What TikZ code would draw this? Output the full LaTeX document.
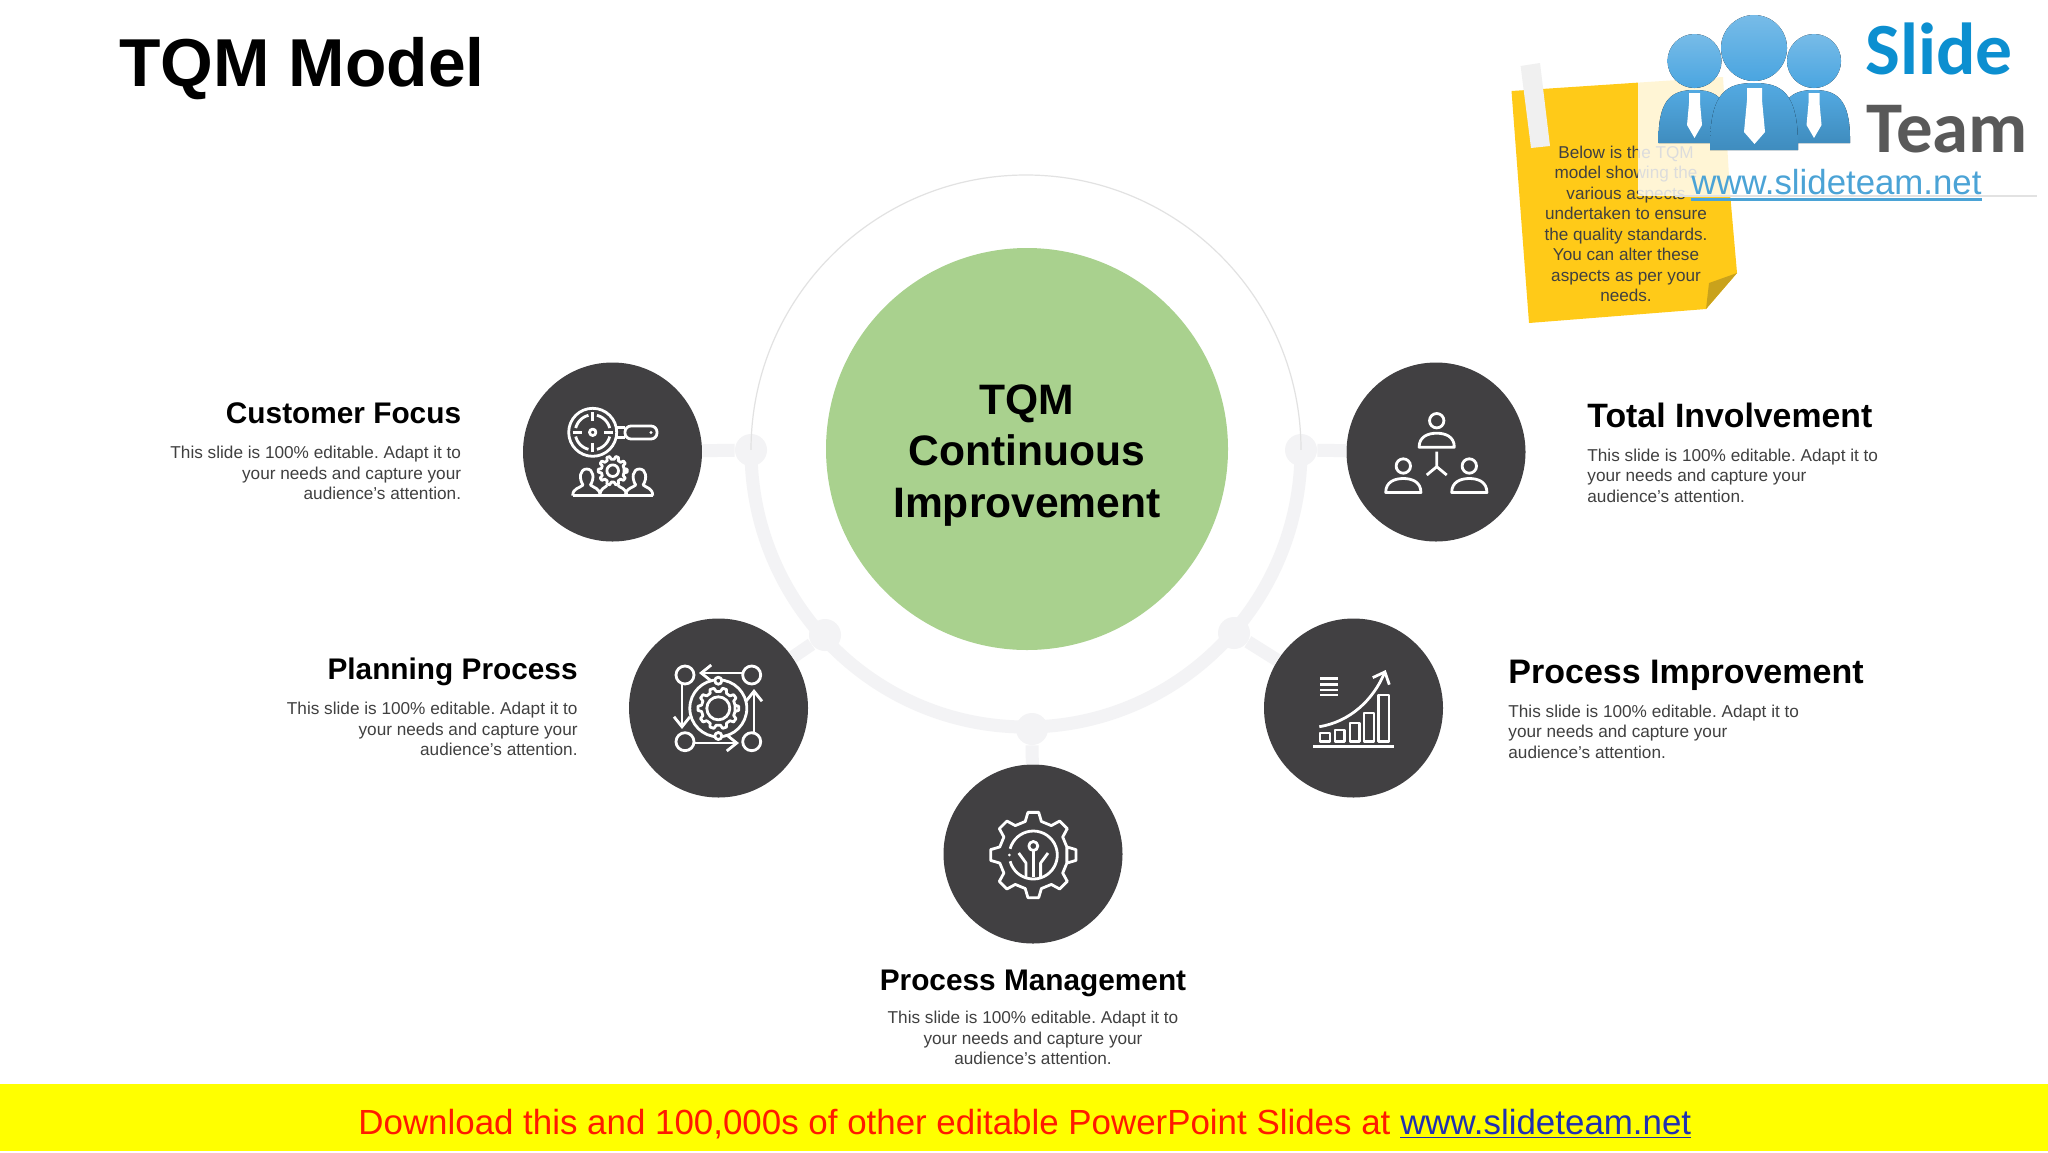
\documentclass[tikz,border=0pt]{standalone}
\usepackage{fontspec}
\setmainfont{Liberation Sans}
\newfontfamily\logofont{Carlito}
\frenchspacing
\usetikzlibrary{arrows.meta}
\definecolor{discdark}{HTML}{414042}
\definecolor{ringgrey}{HTML}{F3F3F5}
\definecolor{thingrey}{HTML}{E2E2E2}
\definecolor{tqmgreen}{HTML}{A9D18E}
\definecolor{bodygrey}{HTML}{404040}
\definecolor{notegold}{HTML}{FFCA18}
\definecolor{foldgold}{HTML}{C9A21C}
\definecolor{logoblue}{HTML}{4AA5E0}
\definecolor{linkblue}{HTML}{4BA3D6}
\definecolor{slideblue}{HTML}{0C8FD0}
\definecolor{bandyellow}{HTML}{FFFF00}
\definecolor{bandred}{HTML}{FF1A00}
\definecolor{bandblue}{HTML}{2030B0}
\tikzset{
  disc/.style={circle,fill=discdark,minimum size=89.5pt,inner sep=0pt},
  joint/.style={circle,fill=ringgrey,minimum size=16pt,inner sep=0pt},
  ringline/.style={draw=ringgrey,line width=6.5pt},
  iconline/.style={draw=white,line width=1.4pt,line join=round},
  headtext/.style={inner sep=0pt,font=\bfseries\fontsize{14.9}{18}\selectfont},
  bodytext/.style={inner sep=0pt,text=bodygrey,font=\fontsize{8.6}{10.3}\selectfont},
  notetext/.style={inner sep=0pt,align=center,text=bodygrey,font=\fontsize{8.57}{10.25}\selectfont},
  logotie/.style={fill=white,draw=none}
}
% gear outline: centre x, centre y, outer, inner, teeth
\newcommand{\gearicon}[5]{
  \begin{scope}[shift={(#1,#2)}]
    \pgfmathsetmacro{\gstep}{360/#5}
    \draw[iconline] ({-0.30*\gstep}:#4) \foreach \k in {0,...,#5} {
      -- ({\k*\gstep-0.30*\gstep}:#4) -- ({\k*\gstep-0.16*\gstep}:#3)
      -- ({\k*\gstep+0.16*\gstep}:#3) -- ({\k*\gstep+0.30*\gstep}:#4)} -- cycle;
  \end{scope}
}
% small person with half round body: x and y of the head
\newcommand{\personicon}[2]{
  \begin{scope}[shift={(#1,#2)}]
    \draw[iconline] (0,0) circle (7.2);
    \draw[iconline] (-17.6,26.5) .. controls (-17.6,16) and (-9,12.5) .. (0,12.5)
      .. controls (9,12.5) and (17.6,16) .. (17.6,26.5) -- cycle;
  \end{scope}
}
% bust for the customer icon
\newcommand{\busticon}[1]{
  \begin{scope}[shift={(#1,0)}]
    \draw[iconline] (572.7,495.7) .. controls (572.7,488) and (580,488) .. (583,485)
      .. controls (578.5,478) and (580,469) .. (586.7,469)
      .. controls (593.4,469) and (594.9,478) .. (590.4,485)
      .. controls (594,488) and (600,488) .. (600,495.7);
  \end{scope}
}
% logo figure: x, head radius, head y, body half width, body top, body bottom
\newcommand{\logoman}[6]{
  \fill[top color=logoblue!75!white,bottom color=logoblue] (#1,#3) circle (#2);
  \fill[top color=logoblue!95!white,bottom color=logoblue!85!black]
    (#1-#4,#6-4) .. controls (#1-#4,#5+8) and (#1-#4*0.6,#5) .. (#1,#5)
    .. controls (#1+#4*0.6,#5) and (#1+#4,#5+8) .. (#1+#4,#6-4)
    -- (#1+#4,#6) -- (#1-#4,#6) -- cycle;
}
\begin{document}
\begin{tikzpicture}[x=0.5pt,y=-0.5pt]
\useasboundingbox (0,0) rectangle (2048,1152);
\fill[white] (0,0) rectangle (2048,1152);

% title
\node[anchor=base west,inner sep=0pt,font=\bfseries\fontsize{33.9}{40}\selectfont] (title) at (119,86) {TQM Model};

% rings
\node[joint] (jleft) at (751,450) {};
\node[joint] (jright) at (1301,450) {};
\node[joint] (jlowleft) at (825,635) {};
\node[joint] (jlowright) at (1234,633) {};
\node[joint] (jbottom) at (1032,729) {};
\draw[thingrey,line width=0.6pt] (jleft) arc[start angle=180,end angle=360,x radius=275,y radius=275];
\draw[ringline] (jleft) arc[start angle=180,end angle=0,x radius=275,y radius=277];

% outer discs
\node[disc] (custdisc) at (612.5,452) {};
\node[disc] (plandisc) at (718.5,708) {};
\node[disc] (totaldisc) at (1436,452) {};
\node[disc] (impdisc) at (1353.5,708) {};
\node[disc] (mgmtdisc) at (1033,854) {};

\draw[ringline] (jleft) -- (custdisc);
\draw[ringline] (jright) -- (totaldisc);
\draw[ringline] (jlowleft) -- (plandisc);
\draw[ringline] (jlowright) -- (impdisc);
\draw[ringline] (jbottom) -- (mgmtdisc);

% centre
\node[circle,fill=tqmgreen,minimum size=201pt,inner sep=0pt] (tqm) at (1027,449) {};
\node[align=center,inner sep=0pt,font=\bfseries\fontsize{21.3}{25.8}\selectfont] (tqmtext) at (1027,455.5) {TQM\\Continuous\\Improvement};

% customer focus icon
\draw[iconline] (592.7,432.3) circle (24);
\foreach \a in {0,90,180,270} {
  \draw[iconline] plot[domain=\a+14:\a+76,samples=12] ({592.7+17.5*cos(\x)},{432.3+17.5*sin(\x)});
  \draw[iconline] ({592.7+20*cos(\a)},{432.3+20*sin(\a)}) -- ({592.7+11*cos(\a)},{432.3+11*sin(\a)});
}
\draw[iconline] (592.7,432.3) circle (3.2);
\draw[iconline] (616,427.5) -- (625,427.5) (616,437.5) -- (625,437.5);
\draw[iconline,rounded corners=3pt] (625,426) rectangle (657,439);
\fill[white] (651,432.5) circle (1.6);
\gearicon{612.7}{470.7}{14.5}{11.5}{10}
\draw[iconline] (612.7,470.7) circle (5.8);
\busticon{0}
\busticon{52.7}
\draw[iconline] (600,495.7) .. controls (600,488) and (605,488) .. (607,485.5);
\draw[iconline] (626.7,495.7) .. controls (626.7,488) and (620,488) .. (618,485.5);
\draw[iconline] (572.7,495.7) -- (653.2,495.7);

% planning icon
\foreach \px/\py in {685/675,751.7/675,685/741.7,751.7/741.7}
  \draw[iconline] (\px,\py) circle (9);
\draw[iconline,-{Straight Barb[length=5pt,width=8pt]}] (742.7,673) -- (699,673);
\draw[iconline,-{Straight Barb[length=5pt,width=8pt]}] (682,684) -- (682,729);
\draw[iconline,-{Straight Barb[length=5pt,width=8pt]}] (694,743) -- (739,743);
\draw[iconline,-{Straight Barb[length=5pt,width=8pt]}] (754,732) -- (754,689);
\draw[iconline] (718.3,708.3) circle (28.5);
\draw[iconline,fill=discdark] (718.3,680.7) circle (3.5);
\draw[iconline,fill=discdark] (718.3,736) circle (3.5);
\gearicon{718.3}{708.3}{20.5}{17}{10}
\draw[iconline] (718.3,708.3) circle (11.5);

% involvement icon
\personicon{1436.7}{420.7}
\personicon{1403.3}{466}
\personicon{1469.3}{466}
\draw[iconline] (1436.7,451.7) -- (1436.7,466.7) -- (1426.7,475);
\draw[iconline] (1436.7,466.7) -- (1446.7,475);

% improvement icon
\draw[iconline] (1313.3,746.7) -- (1394,746.7);
\foreach \xa/\xb/\ytop in {1320/1330/733,1335/1344.5/730,1350/1359.5/723,1364/1374/713,1378.5/1389/695}
  \draw[iconline] (\xa,741.7) rectangle (\xb,\ytop);
\draw[iconline,-{Straight Barb[length=5pt,width=9pt]}] (1319.3,726.7) .. controls (1350,721.7) and (1373,700) .. (1385.7,670);
\foreach \ly in {678.3,684.3,690,695}
  \draw[iconline] (1320,\ly) -- (1338.3,\ly);

% management icon
\gearicon{1033.3}{855}{43}{34.5}{8}
\draw[iconline] plot[domain=-165:165,samples=40] ({1033.3+24*cos(\x)},{855+24*sin(\x)});
\fill[white] (1009.3,855) circle (1.5);
\draw[iconline] (1033.3,846) circle (4.5);
\draw[iconline] (1033.3,851) -- (1033.3,877);
\draw[iconline] (1026,877) -- (1026,863) -- (1018.7,853);
\draw[iconline] (1040.6,877) -- (1040.6,863) -- (1048,853);

% labels
\node[headtext,anchor=east] (custhead) at (461.5,413) {Customer Focus};
\node[bodytext,anchor=east,align=right] (custbody) at (461.5,473) {This slide is 100\% editable. Adapt it to\\your needs and capture your\\audience's attention.};
\node[headtext,anchor=east] (planhead) at (578,671.5) {Planning Process};
\node[bodytext,anchor=east,align=right] (planbody) at (578,729) {This slide is 100\% editable. Adapt it to\\your needs and capture your\\audience's attention.};
\node[headtext,anchor=west,font=\bfseries\fontsize{16.9}{20}\selectfont] (totalhead) at (1587,415) {Total Involvement};
\node[bodytext,anchor=west,align=left] (totalbody) at (1587,475.5) {This slide is 100\% editable. Adapt it to\\your needs and capture your\\audience's attention.};
\node[headtext,anchor=west,font=\bfseries\fontsize{17}{20}\selectfont] (imphead) at (1508,675) {Process Improvement};
\node[bodytext,anchor=west,align=left] (impbody) at (1508,731.5) {This slide is 100\% editable. Adapt it to\\your needs and capture your\\audience's attention.};
\node[headtext] (mgmthead) at (1033,983.5) {Process Management};
\node[bodytext,align=center] (mgmtbody) at (1033,1038) {This slide is 100\% editable. Adapt it to\\your needs and capture your\\audience's attention.};

% note
\fill[notegold] (1511.5,91) -- (1723,77) -- (1730,193) -- (1737,273) -- (1706,309) -- (1529,323) -- cycle;
\fill[foldgold] (1737,273) -- (1709,283) -- (1706,309) -- cycle;
\fill[black!6] (1520.6,66) -- (1540,63) -- (1550,146) -- (1531,148) -- cycle;
\node[notetext] (notebody) at (1626,224) {Below is the TQM\\model showing the\\various aspects\\undertaken to ensure\\the quality standards.\\You can alter these\\aspects as per your\\needs.};

% logo
\fill[white,opacity=0.82] (1638,0) rectangle (2048,196);
\logoman{1694.5}{27}{61}{36}{90}{143}
\logoman{1814}{27}{61}{36}{90}{143}
\logoman{1754}{33}{48}{44}{83}{150}
\fill[logotie] (1689,93) -- (1700,93) -- (1700,103) -- (1702,125) -- (1694.5,138) -- (1687,125) -- (1689,103) -- cycle;
\fill[logotie] (1808.5,93) -- (1819.5,93) -- (1819.5,103) -- (1821.5,125) -- (1814,138) -- (1806.5,125) -- (1808.5,103) -- cycle;
\fill[logotie] (1747,88) -- (1762,88) -- (1762,100) -- (1765,132) -- (1754.5,144) -- (1744,132) -- (1747,100) -- cycle;
\node[anchor=base west,inner sep=0pt,text=slideblue,font=\logofont\bfseries\fontsize{36.8}{40}\selectfont] (logoslide) at (1865,74) {Slide};
\node[anchor=base west,inner sep=0pt,text=black!65,font=\logofont\bfseries\fontsize{36.4}{40}\selectfont] (logoteam) at (1866,152) {Team};
\draw[thingrey,line width=0.6pt] (1675,196) -- (2037,196);
\node[anchor=base west,inner sep=0pt,text=linkblue,font=\fontsize{17.4}{20}\selectfont] (logourl) at (1691,194) {www.slideteam.net};
\draw[linkblue,line width=1.2pt] (1691,199.5) -- (1982,199.5);

% footer
\fill[bandyellow] (0,1084) rectangle (2048,1151);
\node[anchor=west,inner sep=0pt,text=bandred,font=\fontsize{17.45}{20}\selectfont] (footer) at (358,1124) {Download this and 100,000s of other editable PowerPoint Slides at \textcolor{bandblue}{\underline{www.slideteam.net}}};
\end{tikzpicture}
\end{document}
